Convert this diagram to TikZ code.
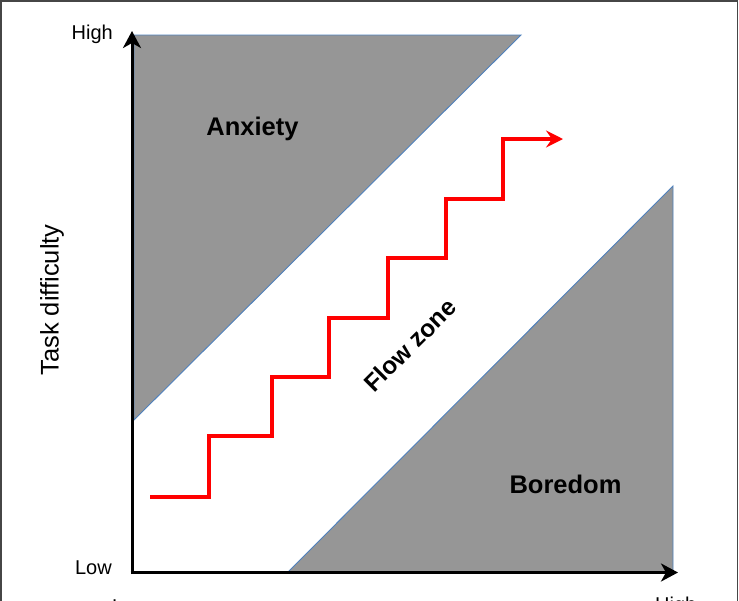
\documentclass[tikz,border=0pt]{standalone}
\usepackage{fontspec}
\setmainfont{Liberation Sans}
\usetikzlibrary{arrows.meta}
\definecolor{zonegray}{RGB}{150,150,150}
\definecolor{edgeblue}{RGB}{79,129,189}
\definecolor{framegray}{RGB}{70,70,70}
\begin{document}
\begin{tikzpicture}[x=1pt,y=-1pt,
  zone/.style={fill=zonegray,draw=edgeblue,line width=0.9pt},
  axisline/.style={line width=3pt,-{Stealth[length=17pt,width=18pt,inset=5pt]}},
  redstep/.style={red,line width=4pt,-{Stealth[length=17pt,width=17pt,inset=6pt]}},
  lab/.style={font=\fontsize{20}{24}\selectfont,inner sep=0pt},
  zonelab/.style={font=\bfseries\fontsize{25.5}{30}\selectfont,inner sep=0pt}]
\useasboundingbox (0,0) rectangle (739,600);
\fill[white] (0,0) rectangle (739,600);
\draw[framegray,line width=1.5pt] (1,601) -- (1,0.75) -- (737.5,0.75) -- (737.5,601);
% zones
\draw[zone] (134,35) -- (521,35) -- (134,420) -- cycle;
\draw[zone] (288,572) -- (673,186) -- (673,572) -- cycle;
% axes
\coordinate (O) at (132,574);
\coordinate (ytop) at (132,31);
\coordinate (O2) at (130.5,572.5);
\coordinate (xend) at (678,572.5);
\draw[axisline] (O) -- (ytop);
\draw[axisline] (O2) -- (xend);
% staircase
\draw[redstep,line join=miter] (150,497) -- (209,497) -- (209,436) -- (272,436) -- (272,377)
  -- (329,377) -- (329,318) -- (388,318) -- (388,258) -- (446,258) -- (446,199)
  -- (503,199) -- (503,139) -- (563,139);
% labels
\node[lab,anchor=base east] (yhigh) at (113,39) {High};
\node[lab,anchor=base east] (ylow) at (112,574) {Low};
\node[lab,anchor=base west] (xlow) at (112,613) {Low};
\node[lab,anchor=base west] (xhigh) at (655,611) {High};
\node[font=\fontsize{25.5}{30}\selectfont,inner sep=0pt,rotate=90] (ylab) at (52,300) {Task difficulty};
\node[zonelab,anchor=base] (anx) at (252.5,135) {Anxiety};
\node[zonelab,anchor=base] (bor) at (565.5,493) {Boredom};
\node[font=\bfseries\fontsize{24.5}{28}\selectfont,inner sep=0pt,rotate=45] (flow) at (410,345) {Flow zone};
\end{tikzpicture}
\end{document}
